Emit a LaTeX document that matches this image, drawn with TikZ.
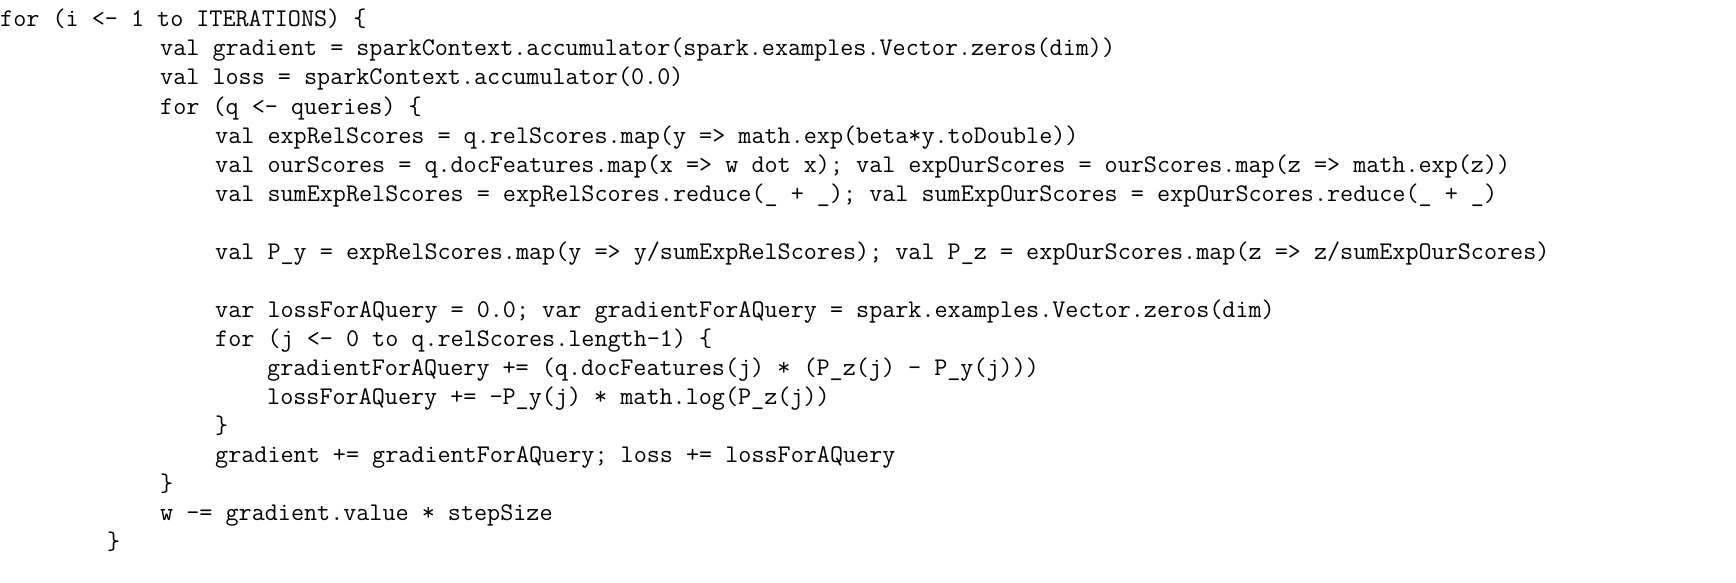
\documentclass[tikz,border=0pt]{standalone}
\begin{document}
\begin{tikzpicture}[x=1pt,y=-1pt,
  code/.style={anchor=base west,inner sep=0pt,font=\fontsize{25.4}{30}\ttfamily}]
\useasboundingbox (0,0) rectangle (1736,583);
\def\ls{29.0}
\node[code] (l1) at (0,27) {for (i <- 1 to ITERATIONS) \{};
\node[code] (l2) at (160,27+1*\ls) {val gradient = sparkContext.accumulator(spark.examples.Vector.zeros(dim))};
\node[code] (l3) at (160,27+2*\ls) {val loss = sparkContext.accumulator(0.0)};
\node[code] (l4) at (160,27+3*\ls) {for (q <- queries) \{};
\node[code] (l5) at (215,27+4*\ls) {val expRelScores = q.relScores.map(y => math.exp(beta*y.toDouble))};
\node[code] (l6) at (215,27+5*\ls) {val ourScores = q.docFeatures.map(x => w dot x); val expOurScores = ourScores.map(z => math.exp(z))};
\node[code] (l7) at (215,27+6*\ls) {val sumExpRelScores = expRelScores.reduce(\_ + \_); val sumExpOurScores = expOurScores.reduce(\_ + \_)};
\node[code] (l9) at (215,27+8*\ls) {val P\_y = expRelScores.map(y => y/sumExpRelScores); val P\_z = expOurScores.map(z => z/sumExpOurScores)};
\node[code] (l11) at (215,27+10*\ls) {var lossForAQuery = 0.0; var gradientForAQuery = spark.examples.Vector.zeros(dim)};
\node[code] (l12) at (215,27+11*\ls) {for (j <- 0 to q.relScores.length-1) \{};
\node[code] (l13) at (267,27+12*\ls) {gradientForAQuery += (q.docFeatures(j) * (P\_z(j) - P\_y(j)))};
\node[code] (l14) at (267,27+13*\ls) {lossForAQuery += -P\_y(j) * math.log(P\_z(j))};
\node[code] (l15) at (215,27+14*\ls) {\}};
\node[code] (l16) at (215,27+15*\ls) {gradient += gradientForAQuery; loss += lossForAQuery};
\node[code] (l17) at (160,27+16*\ls) {\}};
\node[code] (l18) at (160,27+17*\ls) {w -= gradient.value * stepSize};
\node[code] (l19) at (107,27+18*\ls) {\}};
\end{tikzpicture}
\end{document}
